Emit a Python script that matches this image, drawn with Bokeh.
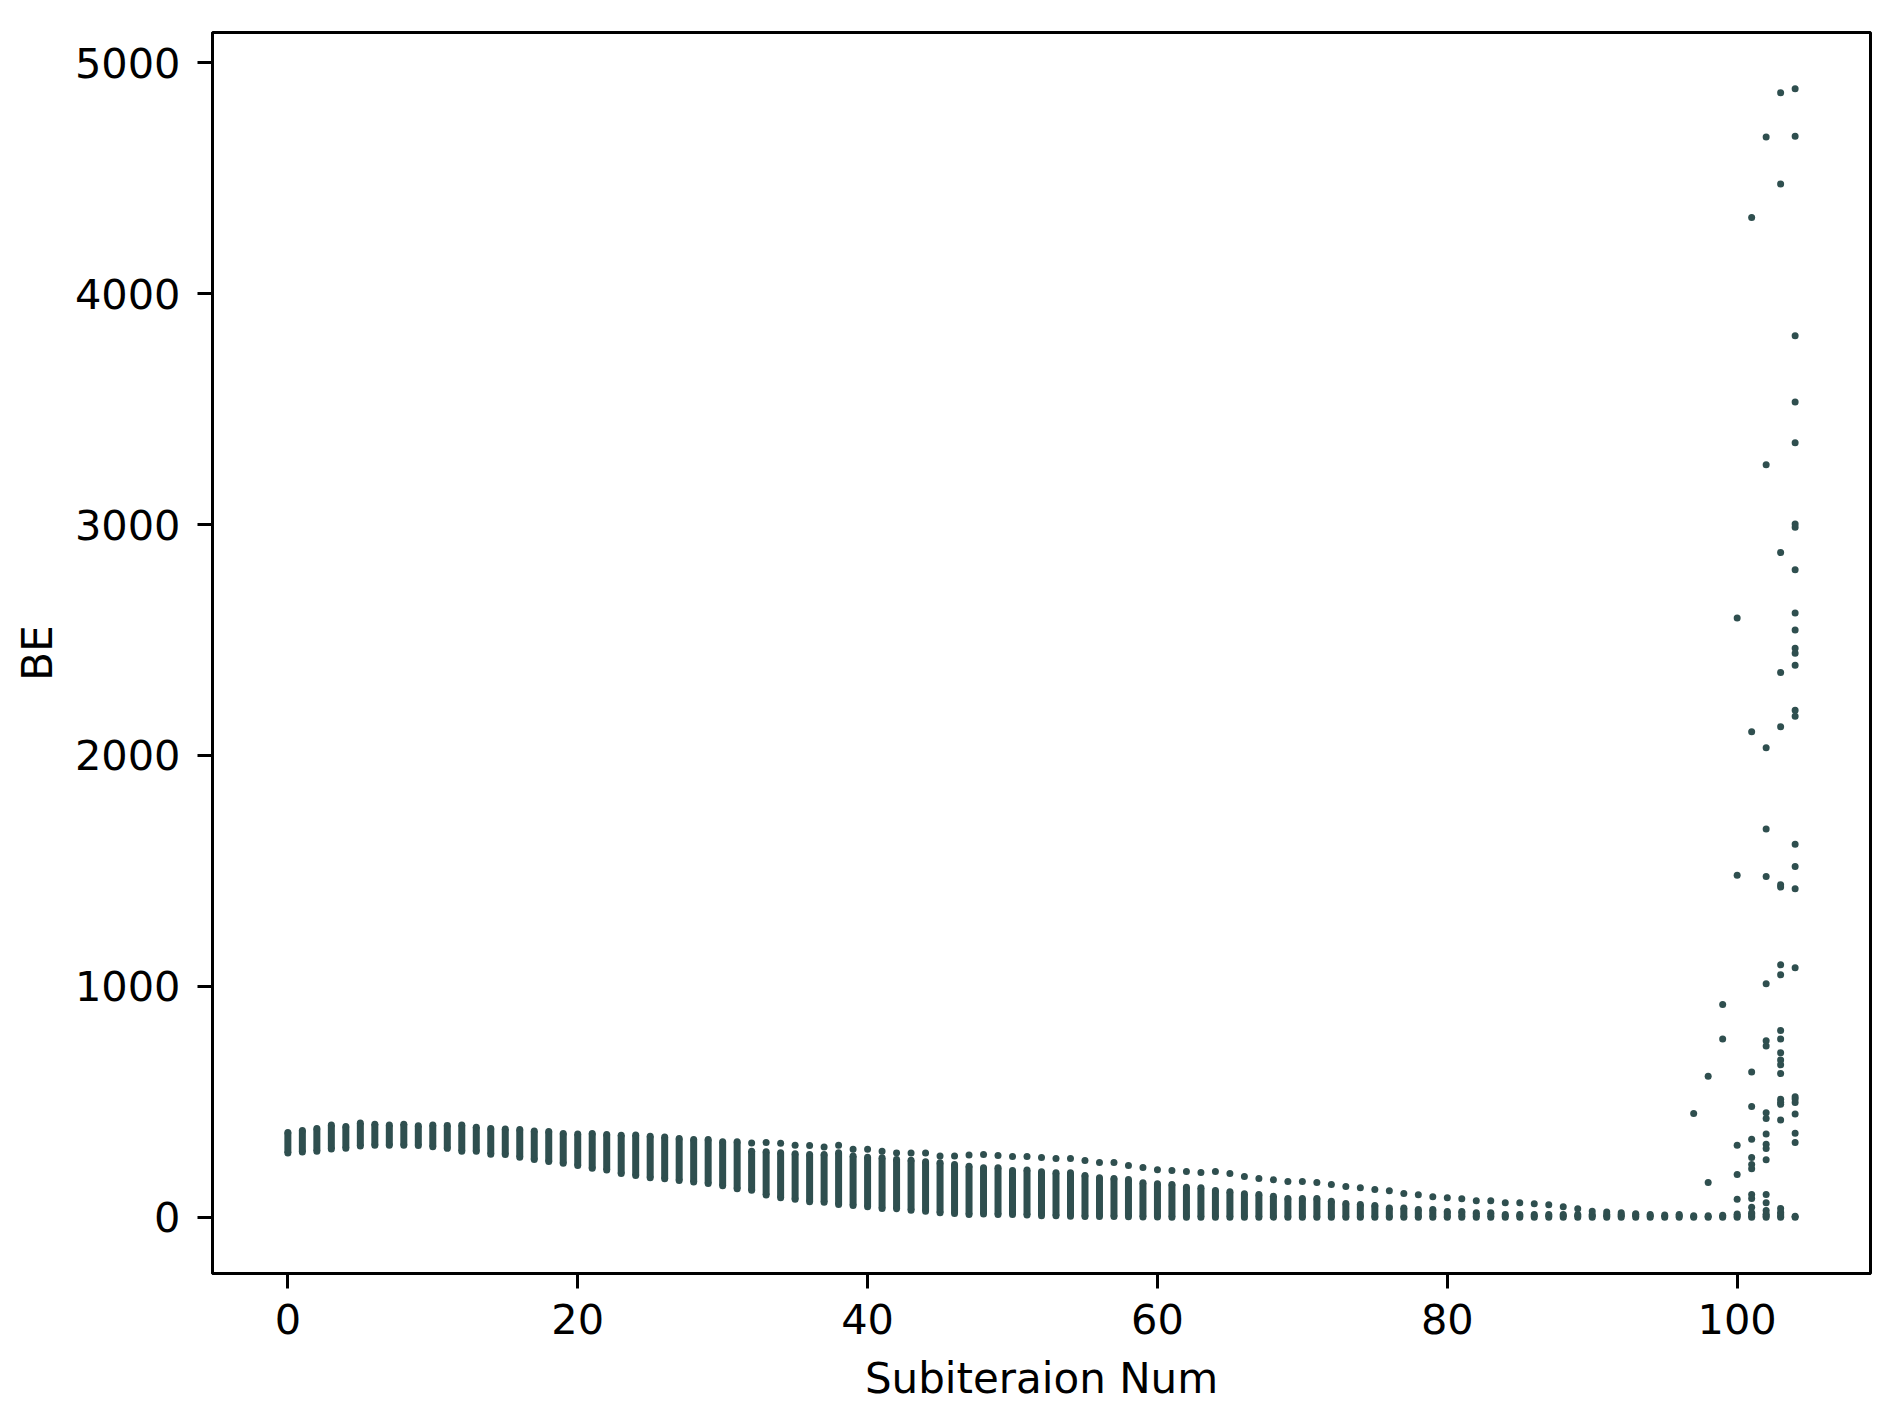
from bokeh.embed import file_html
from bokeh.models import ColumnDataSource, FixedTicker, Range1d
from bokeh.plotting import figure
from bokeh.resources import INLINE

# Sample data
x_ticks = [0, 20, 40, 60, 80, 100]
y_ticks = [0, 1000, 2000, 3000, 4000, 5000]

subiter = list(range(105))

# lowest and highest BE of the dense run of dots in each subiteration
column_low = [278, 282, 286, 295, 299, 308, 312, 312, 312, 311, 305, 298, 286, 286, 273, 272, 260, 250, 241, 234,
              224, 212, 204, 189, 181, 171, 166, 159, 152, 146, 136, 123, 117, 96, 84, 78, 67, 65, 55, 51,
              45, 38, 36, 30, 26, 19, 16, 12, 14, 12, 12, 9, 6, 6, 4, 3, 3, 3, 2, 1,
              1, 0, 0, 0, 0, 0, 0, 0, 0, 0, 0, 0, 0, 0, 0, 0, 0, 0, 0, 0,
              0, 0, 0, 0, 0, 0, 0, 0, 0, 0, 0, 0, 0, 0, 0, 0, 0, 0, 0, 0,
              0, 0, 0, 0, 0]
column_high = [367, 376, 384, 399, 393, 408, 403, 399, 403, 396, 399, 397, 399, 390, 384, 382, 380, 373, 371, 363,
               360, 363, 358, 355, 356, 351, 347, 341, 337, 337, 327, 327, 286, 283, 279, 275, 272, 272, 279, 265,
               260, 257, 250, 247, 240, 236, 228, 221, 214, 214, 202, 204, 197, 192, 192, 181, 171, 168, 163, 149,
               145, 142, 130, 127, 116, 110, 101, 98, 91, 81, 81, 81, 69, 59, 55, 51, 40, 40, 33, 33,
               25, 25, 19, 19, 12, 12, 12, 12, 12, 12, 12, 12, 12, 12, 12, 9, 12, 6, 6, 8,
               14, 19, 14, 22, 4]

# detached top dots above the dense run, subiterations 32 to 93
ridge_x = list(range(32, 94))
ridge_y = [321, 324, 320, 312, 311, 304, 312, 294, 294, 286, 278, 278, 278, 265, 265, 269, 272, 267, 263, 263,
           259, 254, 254, 246, 237, 237, 224, 215, 205, 202, 198, 194, 198, 189, 176, 168, 162, 155, 155, 150,
           142, 133, 127, 120, 114, 103, 97, 88, 84, 80, 71, 71, 62, 62, 58, 54, 45, 36, 26, 22,
           19, 15]

# scattered dots of the last subiterations
scatter_97 = [449]
scatter_98 = [610, 150]
scatter_99 = [921, 772]
scatter_100 = [2596, 1481, 312, 185, 78]
scatter_101 = [4331, 2103, 629, 479, 338, 259, 228, 210, 98, 81, 43]
scatter_102 = [4679, 3260, 2034, 1682, 1476, 1011, 764, 742, 452, 427, 360, 316, 298, 249, 98, 62, 29]
scatter_103 = [4871, 4476, 2879, 2360, 2125, 1440, 1430, 1093, 1050, 809, 772, 712, 681, 660, 622, 511, 498, 489,
               421, 38]
scatter_104 = [4888, 4683, 3818, 3531, 3355, 3003, 2989, 2805, 2617, 2544, 2465, 2443, 2391, 2196, 2170, 1615,
               1519, 1423, 1081, 522, 512, 497, 447, 364, 324]

dot_color = "#2F4F4F"
dot_size = 7

p = figure(frame_width=1658, frame_height=1241, output_backend="svg", toolbar_location=None,
           x_range=Range1d(-5.2, 109.2), y_range=Range1d(-244, 5132),
           x_axis_label="Subiteraion Num", y_axis_label="BE",
           min_border_left=212, min_border_right=24, min_border_top=32, min_border_bottom=126)

# the columns are so dense that the dots merge, so the run is a bar between its end dots
columns = ColumnDataSource(dict(x=subiter, low=column_low, high=column_high))
p.segment(x0="x", y0="low", x1="x", y1="high", source=columns, line_color=dot_color, line_width=dot_size)
p.scatter("x", "low", source=columns, size=dot_size, color=dot_color, line_width=0)
p.scatter("x", "high", source=columns, size=dot_size, color=dot_color, line_width=0)
p.scatter(ridge_x, ridge_y, size=dot_size, color=dot_color, line_width=0)

for x, values in [(97, scatter_97), (98, scatter_98), (99, scatter_99), (100, scatter_100),
                  (101, scatter_101), (102, scatter_102), (103, scatter_103), (104, scatter_104)]:
    p.scatter([x] * len(values), values, size=dot_size, color=dot_color, line_width=0)

# Customize the plot
p.xgrid.grid_line_color = None
p.ygrid.grid_line_color = None
p.outline_line_color = "black"
p.outline_line_width = 3
p.xaxis.ticker = FixedTicker(ticks=x_ticks)
p.yaxis.ticker = FixedTicker(ticks=y_ticks)

for axis in [p.xaxis, p.yaxis]:
    axis.axis_line_color = "black"
    axis.axis_line_width = 3
    axis.major_tick_line_color = "black"
    axis.major_tick_line_width = 3
    axis.major_tick_in = 0
    axis.major_tick_out = 15
    axis.minor_tick_line_color = None
    axis.major_label_text_font = "DejaVu Sans"
    axis.major_label_text_font_size = "41.5px"
    axis.major_label_text_color = "black"
    axis.axis_label_text_font = "DejaVu Sans"
    axis.axis_label_text_font_size = "42px"
    axis.axis_label_text_font_style = "normal"
    axis.axis_label_text_color = "black"

p.xaxis.major_label_standoff = 15
p.yaxis.major_label_standoff = 17
p.xaxis.axis_label_standoff = 17
p.yaxis.axis_label_standoff = 10

open("out.html", "w").write(file_html(p, INLINE))
